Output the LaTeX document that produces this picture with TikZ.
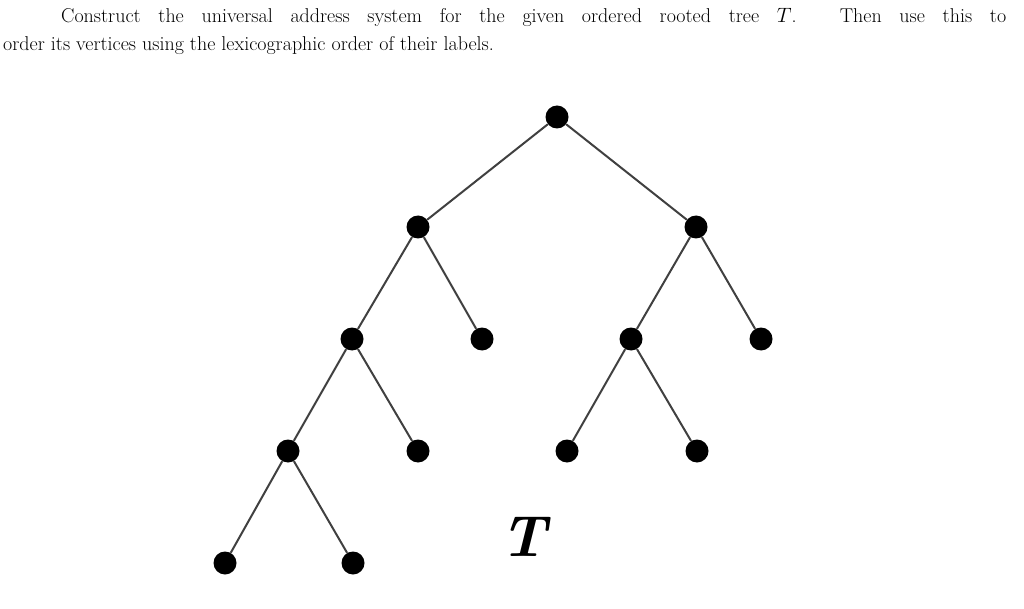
\documentclass[tikz,border=0pt]{standalone}
\begin{document}
\begin{tikzpicture}[x=1pt,y=-1pt,
  vtx/.style={circle,fill=black,inner sep=0pt,minimum size=23pt},
  edge/.style={draw=black!75,line width=2pt}]
\useasboundingbox (0,0) rectangle (1024,609);
\node[anchor=north west,text width=1003pt,inner sep=0pt,align=justify,font=\fontsize{20}{28}\selectfont] (txt) at (3,8)
{\hspace*{58pt}Construct the universal address system for the given ordered rooted tree $T$. Then use this to\linebreak order its vertices using the lexicographic order of their labels.};
\node[vtx] (r) at (557,117) {};
\node[vtx] (a) at (418,227) {};
\node[vtx] (b) at (696,227) {};
\node[vtx] (a1) at (352,339) {};
\node[vtx] (a2) at (482,339) {};
\node[vtx] (b1) at (631,339) {};
\node[vtx] (b2) at (761,339) {};
\node[vtx] (c1) at (288,451) {};
\node[vtx] (c2) at (418,451) {};
\node[vtx] (d1) at (567,451) {};
\node[vtx] (d2) at (697,451) {};
\node[vtx] (e1) at (225,563) {};
\node[vtx] (e2) at (353,563) {};
\foreach \u/\v in {r/a,r/b,a/a1,a/a2,b/b1,b/b2,a1/c1,a1/c2,b1/d1,b1/d2,c1/e1,c1/e2}
  \draw[edge] (\u) -- (\v);
\node[font=\fontsize{58}{58}\selectfont\bfseries\itshape] (T) at (524,537) {T};
\end{tikzpicture}
\end{document}
